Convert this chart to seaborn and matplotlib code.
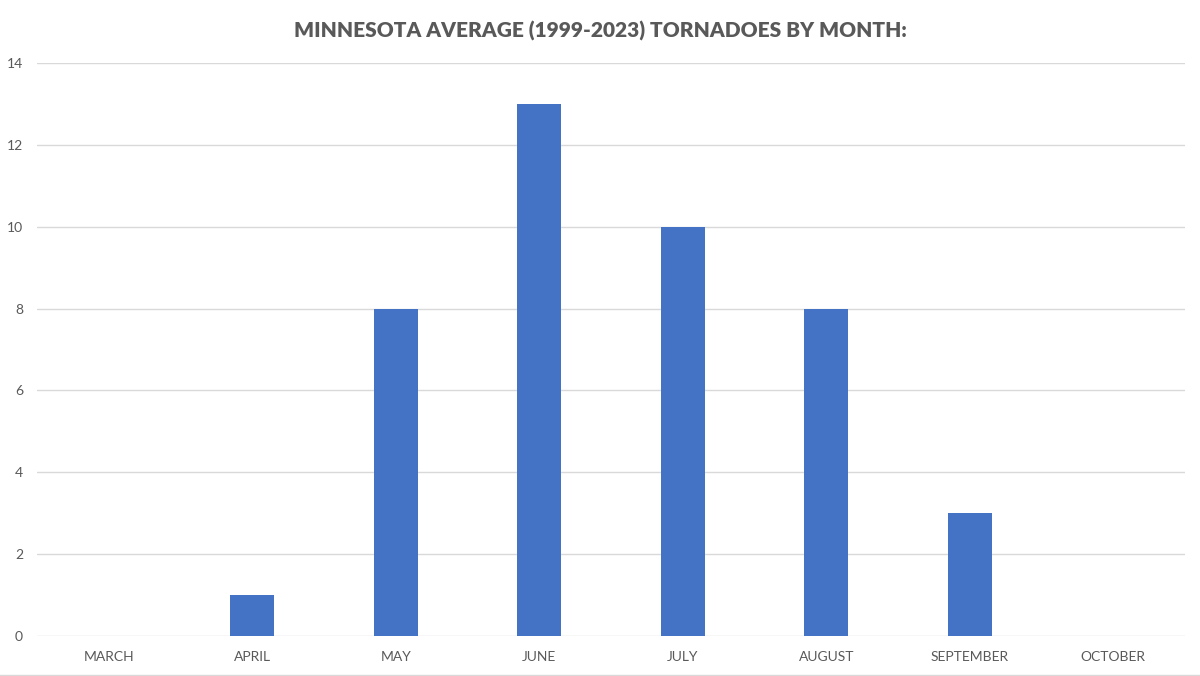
import numpy as np
import pandas as pd
import matplotlib.pyplot as plt
import seaborn as sns

months = ['MARCH', 'APRIL', 'MAY', 'JUNE', 'JULY', 'AUGUST', 'SEPTEMBER', 'OCTOBER']
tornadoes = [0, 1, 8, 13, 10, 8, 3, 0]
y_ticks = [0, 2, 4, 6, 8, 10, 12, 14]

df = pd.DataFrame({'month': months, 'tornadoes': tornadoes})

sns.set_style('white')
plt.rcParams['font.family'] = ['Lato', 'DejaVu Sans']

fig = plt.figure(figsize=(12, 6.76), dpi=100)
ax = fig.add_axes([37 / 1200, 1 - 636 / 676, (1185 - 37) / 1200, (636 - 63) / 676])

sns.barplot(x='month', y='tornadoes', data=df, color='#4472C4', width=0.31,
            saturation=1, linewidth=0, ax=ax, zorder=3)

ax.set_ylim(0, 14)
ax.set_xlim(-0.5, 7.5)
ax.set_yticks(y_ticks)
ax.yaxis.grid(True, color='#D9D9D9', linewidth=1, zorder=0)
ax.set_axisbelow(True)
for s in ax.spines.values():
    s.set_visible(False)
ax.set_xlabel('')
ax.set_ylabel('')
ax.tick_params(axis='both', length=0, colors='#595959', labelsize=10)
ax.tick_params(axis='x', pad=11)
ax.tick_params(axis='y', pad=10)

fig.text(0.5, 1 - 31 / 676, 'MINNESOTA AVERAGE (1999-2023) TORNADOES BY MONTH:',
         ha='center', va='center', fontsize=15, fontweight='heavy', color='#595959')

# thin frame line at the bottom
fig.add_artist(plt.Line2D([0, 1], [1.5 / 676, 1.5 / 676], color='#D9D9D9', linewidth=1))

plt.savefig('out.png', dpi=100)
